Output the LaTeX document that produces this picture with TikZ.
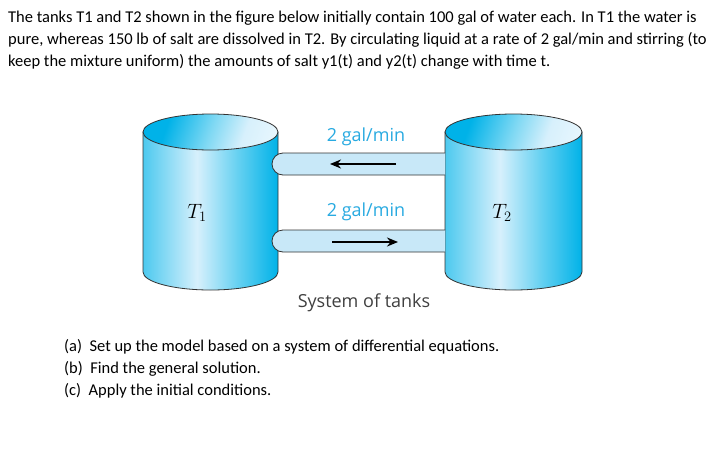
\documentclass[tikz,border=0pt]{standalone}
\usepackage{fontspec}
\setmainfont{Carlito}
\newfontfamily\figfont{Open Sans}
\definecolor{tdark}{RGB}{0,178,232}
\definecolor{tlight}{RGB}{215,240,252}
\definecolor{pipec}{RGB}{200,232,248}
\definecolor{labc}{RGB}{40,170,225}
\pgfdeclarehorizontalshading{tankshade}{100bp}{color(0bp)=(tdark);color(25bp)=(tdark!70!white);color(45bp)=(tlight);color(60bp)=(tdark!60!white);color(75bp)=(tdark);color(100bp)=(tdark)}
\pgfdeclarehorizontalshading{topshade}{100bp}{color(0bp)=(tdark);color(30bp)=(tdark);color(50bp)=(tdark!50!white);color(65bp)=(tlight);color(100bp)=(white)}
\tikzset{
 txt/.style={anchor=west,inner sep=0pt,font=\fontsize{16.5}{22}\selectfont},
 gal/.style={text=labc,font=\figfont\fontsize{18}{20}\selectfont},
 tank/.style={draw=black!80,line width=0.8pt,shading=tankshade},
 tanktop/.style={draw=black!80,line width=0.8pt,shading=topshade,shading angle=-20},
 pipe/.style={draw=black!80,line width=0.8pt,fill=pipec},
 flow/.style={line width=2.4pt,-{Stealth[length=11pt,width=9pt]}},
}
\usetikzlibrary{arrows.meta}
\begin{document}
\begin{tikzpicture}[x=1pt,y=-1pt]
\useasboundingbox (0,0) rectangle (728,469);
\fill[white] (0,0) rectangle (728,469);
\node[txt] (l1) at (8,18) {The tanks T1 and T2 shown in the figure below initially contain 100 gal of water each. In T1 the water is};
\node[txt] (l2) at (8,40) {pure, whereas 150 lb of salt are dissolved in T2. By circulating liquid at a rate of 2 gal/min and stirring (to};
\node[txt] (l3) at (8,62) {keep the mixture uniform) the amounts of salt y1(t) and y2(t) change with time t.};
% tanks
\foreach \xa/\xb/\n in {143/278/a,445/582/b}{
 \draw[tank] (\xa,132) -- (\xa,272) arc[start angle=180,end angle=0,x radius={(\xb-\xa)/2},y radius=18] -- (\xb,132) -- cycle;
 \draw[tanktop] ({(\xa+\xb)/2},132) ellipse[x radius={(\xb-\xa)/2},y radius=18];
}
% pipes
\draw[pipe] (445,153) -- (283,153) arc[start angle=270,end angle=90,radius=11] -- (445,175);
\draw[pipe] (445,230) -- (283,230) arc[start angle=270,end angle=90,radius=11] -- (445,252);
\node (t1) at (197,213) {\fontsize{20}{22}\selectfont$T_1$};
\node (t2) at (502,213) {\fontsize{20}{22}\selectfont$T_2$};
\coordinate (a1s) at (396,164); \coordinate (a1e) at (330,164);
\coordinate (a2s) at (332,242); \coordinate (a2e) at (398,242);
\draw[flow] (a1s) -- (a1e);
\draw[flow] (a2s) -- (a2e);
\node[gal] (g1) at (366,137) {2 gal/min};
\node[gal] (g2) at (366,212) {2 gal/min};
\node[text=black!75,font=\figfont\fontsize{18}{20}\selectfont] (cap) at (364,303) {System of tanks};
\node[txt] (qa) at (64,347) {(a)\ \ Set up the model based on a system of differential equations.};
\node[txt] (qb) at (64,369) {(b)\ \ Find the general solution.};
\node[txt] (qc) at (64,391) {(c)\ \ Apply the initial conditions.};
\end{tikzpicture}
\end{document}
